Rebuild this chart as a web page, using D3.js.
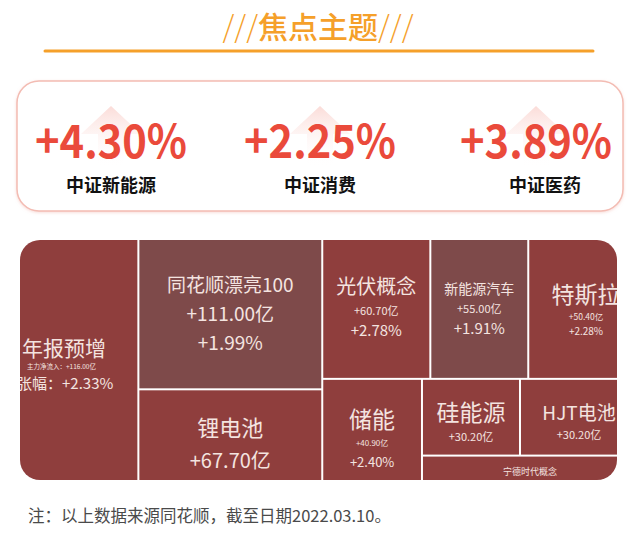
<!DOCTYPE html>
<html><head><meta charset="utf-8">
<script src="https://cdn.jsdelivr.net/npm/d3@7"></script>
<style>body{margin:0;background:#fff}svg{display:block}</style>
</head><body><svg id="c" width="640" height="558"></svg>
<script>
// ---------- data ----------
const titleText = "焦点主题";
const indexNames = ["中证新能源", "中证消费", "中证医药"];
const indexChanges = [4.30, 2.25, 3.89];
const sectorNames = ["年报预增", "同花顺漂亮100", "锂电池", "光伏概念", "新能源汽车", "特斯拉", "储能", "硅能源", "HJT电池", "宁德时代概念"];
const sectorInflows = [116.00, 111.00, 67.70, 60.70, 55.00, 50.40, 40.90, 30.20, 30.20, 20.00]; // last one estimated (unlabelled)
const sectorChanges = [2.33, 1.99, null, 2.78, 1.91, 2.28, 2.40, null, null, null];
const footnote = "注：以上数据来源同花顺，截至日期2022.03.10。";

// ---------- styles ----------
const FONT = "'Noto Sans CJK SC','Noto Sans',sans-serif";
const ORANGE = "#f5a02a";
const RED = "#ea4a3b";
const TXT = "#f4e4e0";
const svg = d3.select("#c");

// title
svg.append("text").attr("x", 318).attr("y", 38).attr("text-anchor", "middle")
  .attr("font-family", FONT).attr("font-size", 30).attr("fill", ORANGE)
  .call(t => {
    t.append("tspan").attr("font-weight", 300).text("///");
    t.append("tspan").attr("font-weight", 500).text(titleText);
    t.append("tspan").attr("font-weight", 300).text("///");
  });
svg.append("line").attr("x1", 45).attr("x2", 593).attr("y1", 51).attr("y2", 51)
  .attr("stroke", ORANGE).attr("stroke-width", 3).attr("stroke-linecap", "round");

// card
const defs = svg.append("defs");
const f = defs.append("filter").attr("id", "sh").attr("x", "-5%").attr("y", "-10%").attr("width", "110%").attr("height", "120%");
f.append("feDropShadow").attr("dx", 0).attr("dy", 1).attr("stdDeviation", 1.5).attr("flood-color", "#f2b9b0").attr("flood-opacity", 0.5);
svg.append("rect").attr("x", 17).attr("y", 81).attr("width", 606).attr("height", 130).attr("rx", 22)
  .attr("fill", "#fff").attr("stroke", "#f3bcb3").attr("stroke-width", 1.5).attr("filter", "url(#sh)");
const g = defs.append("linearGradient").attr("id", "ag").attr("x1", 0).attr("y1", 0).attr("x2", 0).attr("y2", 1);
g.append("stop").attr("offset", 0).attr("stop-color", "#fbdcd8");
g.append("stop").attr("offset", 1).attr("stop-color", "#fff").attr("stop-opacity", 0);

const numX = d3.scaleOrdinal().domain(indexNames).range([111, 320, 536]);
const labX = d3.scaleOrdinal().domain(indexNames).range([111, 320, 545]);
indexNames.forEach((n, i) => {
  const cx = numX(n);
  svg.append("path").attr("d", `M${cx},106 L${cx + 30},134 L${cx + 13},134 L${cx + 13},168 L${cx - 13},168 L${cx - 13},134 L${cx - 30},134 Z`)
    .attr("fill", "url(#ag)");
  svg.append("text").attr("x", cx).attr("y", 158).attr("text-anchor", "middle")
    .attr("font-family", FONT).attr("font-weight", 700).attr("font-size", 46).attr("fill", RED)
    .attr("textLength", 152).attr("lengthAdjust", "spacingAndGlyphs")
    .text("+" + d3.format(".2f")(indexChanges[i]) + "%");
  svg.append("text").attr("x", labX(n)).attr("y", 192).attr("text-anchor", "middle")
    .attr("font-family", FONT).attr("font-weight", 700).attr("font-size", 18).attr("fill", "#111")
    .text(n);
});

// ---------- treemap ----------
const TX = 20, TY = 240, TW = 597, TH = 240;
const leaf = i => ({ idx: i, value: sectorInflows[i] });
const tree = { children: [
  leaf(0),
  { children: [leaf(1), leaf(2)] },
  { children: [
    { children: [leaf(3), leaf(4), leaf(5)] },
    { children: [leaf(6), { children: [{ children: [leaf(7), leaf(8)] }, leaf(9)] }] }
  ] }
] };
const root = d3.hierarchy(tree).sum(d => d.value || 0);
d3.treemap().tile(d3.treemapSliceDice).size([TW, TH]).paddingInner(2)(root);

defs.append("clipPath").attr("id", "tm").append("rect")
  .attr("x", TX).attr("y", TY).attr("width", TW).attr("height", TH).attr("rx", 20);
const color = d3.scaleThreshold().domain([2]).range(["#7e4a4a", "#8f3e3d"]);
const tm = svg.append("g").attr("clip-path", "url(#tm)");
const leaves = root.leaves();
leaves.forEach(d => {
  const ch = sectorChanges[d.data.idx];
  tm.append("rect").attr("x", TX + d.x0).attr("y", TY + d.y0)
    .attr("width", d.x1 - d.x0).attr("height", d.y1 - d.y0)
    .attr("fill", ch == null ? "#8f3e3d" : color(ch));
});

const fmtIn = v => "+" + d3.format(".2f")(v) + "亿";
const fmtCh = v => "+" + d3.format(".2f")(v) + "%";
// label styles: [kind, fontSize, dy, dx]; anchor: "mid" | "start" | "right"(center at x1-off)
const labelStyle = [
  { anchor: "start", lines: [["name", 21, -13, 2], ["inflowLong", 6.5, 6, 7], ["changeLong", 15, 22, -3]] },
  { anchor: "mid", lines: [["name", 19, -31], ["inflow", 19, -2], ["change", 19, 27]] },
  { anchor: "mid", lines: [["name", 22, -9], ["inflow", 20, 24]] },
  { anchor: "mid", lines: [["name", 20, -23], ["inflow", 11, 1], ["change", 15, 21]] },
  { anchor: "mid", lines: [["name", 14, -21], ["inflow", 11, -1], ["change", 15, 19]] },
  { anchor: "right", off: 31, lines: [["name", 23, -16], ["inflow", 8.5, 7], ["change", 10, 22]] },
  { anchor: "mid", lines: [["name", 23, -12], ["inflow", 8, 13], ["change", 13, 32]] },
  { anchor: "mid", lines: [["name", 23, -6], ["inflow", 11, 19]] },
  { anchor: "right", off: 38, lines: [["name", 19, -6], ["inflow", 11, 17]] },
  { anchor: "mid", dx: 10, lines: [["name", 9, 3]] }
];
const tl = tm.append("g").attr("font-family", FONT).attr("fill", TXT);
leaves.forEach(d => {
  const i = d.data.idx, st = labelStyle[i];
  const cy = TY + (d.y0 + d.y1) / 2;
  let ax;
  if (st.anchor === "start") ax = TX + d.x0;
  else if (st.anchor === "right") ax = TX + d.x1 - st.off;
  else ax = TX + (d.x0 + d.x1) / 2 + (st.dx || 0);
  st.lines.forEach(([kind, size, dy, dx]) => {
    let s = "";
    if (kind === "name") s = sectorNames[i];
    else if (kind === "inflow") s = fmtIn(sectorInflows[i]);
    else if (kind === "change") s = fmtCh(sectorChanges[i]);
    else if (kind === "inflowLong") s = "主力净流入：" + fmtIn(sectorInflows[i]);
    else if (kind === "changeLong") s = "张幅：" + fmtCh(sectorChanges[i]);
    tl.append("text").attr("x", ax + (dx || 0)).attr("y", cy + dy)
      .attr("dominant-baseline", "central")
      .attr("text-anchor", st.anchor === "start" ? "start" : "middle")
      .attr("font-size", size).text(s);
  });
});

// footnote
svg.append("text").attr("x", 28).attr("y", 522).attr("font-family", FONT)
  .attr("font-size", 16.5).attr("fill", "#4a4a4a").text(footnote);
</script></body></html>
